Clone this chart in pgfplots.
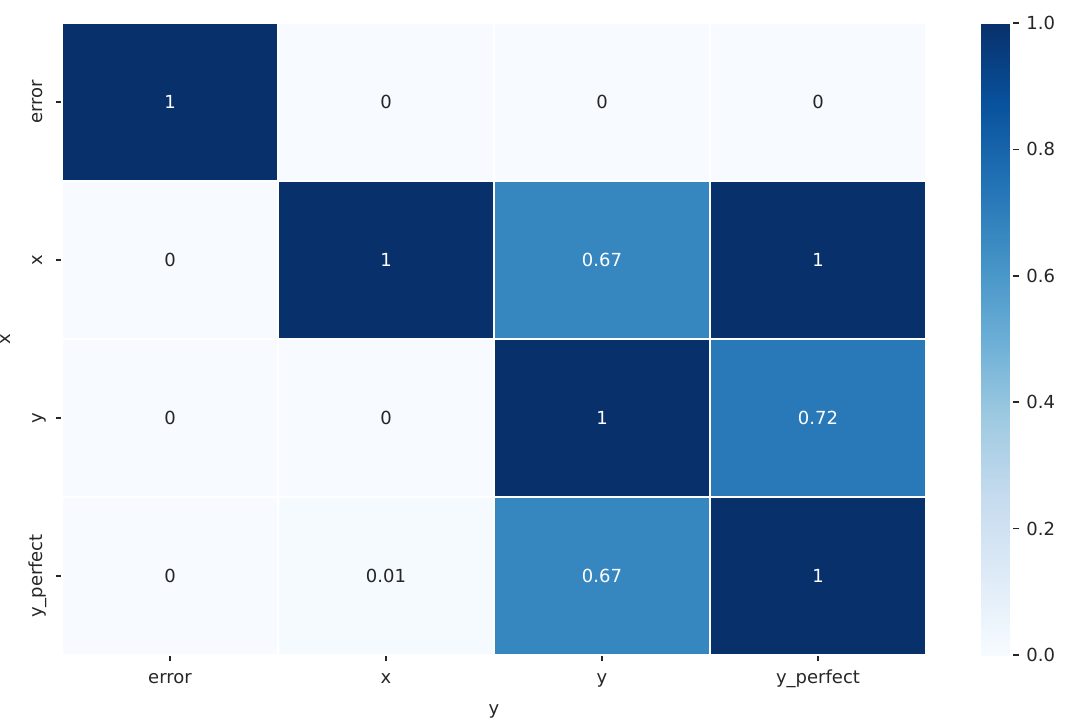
\documentclass[border=0pt]{standalone}
\usepackage{pgfplots}
\pgfplotsset{compat=1.18}
\usepackage{pgfplotstable}
\usepackage{fontspec}
\setmainfont{DejaVu Sans}
\definecolor{txt}{RGB}{38,38,38}
\pgfplotsset{/pgf/number format/assume math mode=true}

\pgfplotstableread{
x y c
0 0 1
1 0 0
2 0 0
3 0 0
0 1 0
1 1 1
2 1 0.67
3 1 1
0 2 0
1 2 0
2 2 1
3 2 0.72
0 3 0
1 3 0.01
2 3 0.67
3 3 1
}\heat

\pgfplotstableread{
x y label
0 0 1
1 1 1
2 1 0.67
3 1 1
2 2 1
3 2 0.72
2 3 0.67
3 3 1
}\darkcells

\pgfplotstableread{
x y label
1 0 0
2 0 0
3 0 0
0 1 0
0 2 0
1 2 0
0 3 0
1 3 0.01
}\lightcells

\begin{document}
\begin{tikzpicture}
\useasboundingbox (-31pt,-35pt) rectangle (509pt,327.5pt);
\begin{axis}[
  scale only axis, width=432pt, height=316pt,
  xmin=-0.5, xmax=3.5, ymin=-0.5, ymax=3.5, y dir=reverse,
  enlargelimits=false,
  axis on top,
  axis line style={draw=none},
  xtick={0,1,2,3}, ytick={0,1,2,3},
  xticklabels={error,x,y,y\_perfect},
  yticklabels={error,x,y,y\_perfect},
  xtick pos=left, ytick pos=left,
  tick align=outside,
  major tick length=3.15pt,
  tick style={txt, line width=0.72pt},
  typeset ticklabels with strut,
  ticklabel style={font=\fontsize{9}{11}\selectfont, text=txt},
  yticklabel style={rotate=90, anchor=south},
  extra x ticks={-0.5,0.5,1.5,2.5,3.5}, extra x tick labels={},
  extra y ticks={-0.5,0.5,1.5,2.5,3.5}, extra y tick labels={},
  extra tick style={grid=major, major tick length=0pt, major grid style={white, line width=1.1pt}},
  xlabel={y}, ylabel={x},
  every axis x label/.style={at={(axis description cs:0.5,-0.0894)}, anchor=center, font=\fontsize{9}{11}\selectfont, text=txt},
  every axis y label/.style={at={(axis description cs:-0.0648,0.5)}, anchor=center, rotate=90, font=\fontsize{9}{11}\selectfont, text=txt},
  colormap={blues}{rgb255=(247,251,255) rgb255=(222,235,247) rgb255=(198,219,239) rgb255=(158,202,225) rgb255=(107,174,214) rgb255=(66,146,198) rgb255=(33,113,181) rgb255=(8,81,156) rgb255=(8,48,107)},
  point meta min=0, point meta max=1,
  colorbar,
  colorbar style={
    at={(parent axis.north east)}, anchor=north west, xshift=19pt,
    scale only axis, width=16pt, height=316pt,
    axis line style={draw=none},
    ytick={0,0.2,0.4,0.6,0.8,1},
    ytick pos=right,
    yticklabel style={/pgf/number format/.cd, fixed, fixed zerofill, precision=1, /tikz/.cd, font=\fontsize{9}{11}\selectfont, text=txt},
    tick align=outside, major tick length=3.15pt,
    tick style={txt, line width=0.72pt},
  },
]
\addplot[matrix plot*, point meta=explicit, mesh/cols=4] table[meta=c] {\heat};
\addplot[draw=none, mark=none, nodes near coords, point meta=explicit symbolic,
  every node near coord/.append style={anchor=center, text=white, font=\fontsize{9}{11}\selectfont}]
  table[meta=label] {\darkcells};
\addplot[draw=none, mark=none, nodes near coords, point meta=explicit symbolic,
  every node near coord/.append style={anchor=center, text=txt, font=\fontsize{9}{11}\selectfont}]
  table[meta=label] {\lightcells};
\end{axis}
\end{tikzpicture}
\end{document}
